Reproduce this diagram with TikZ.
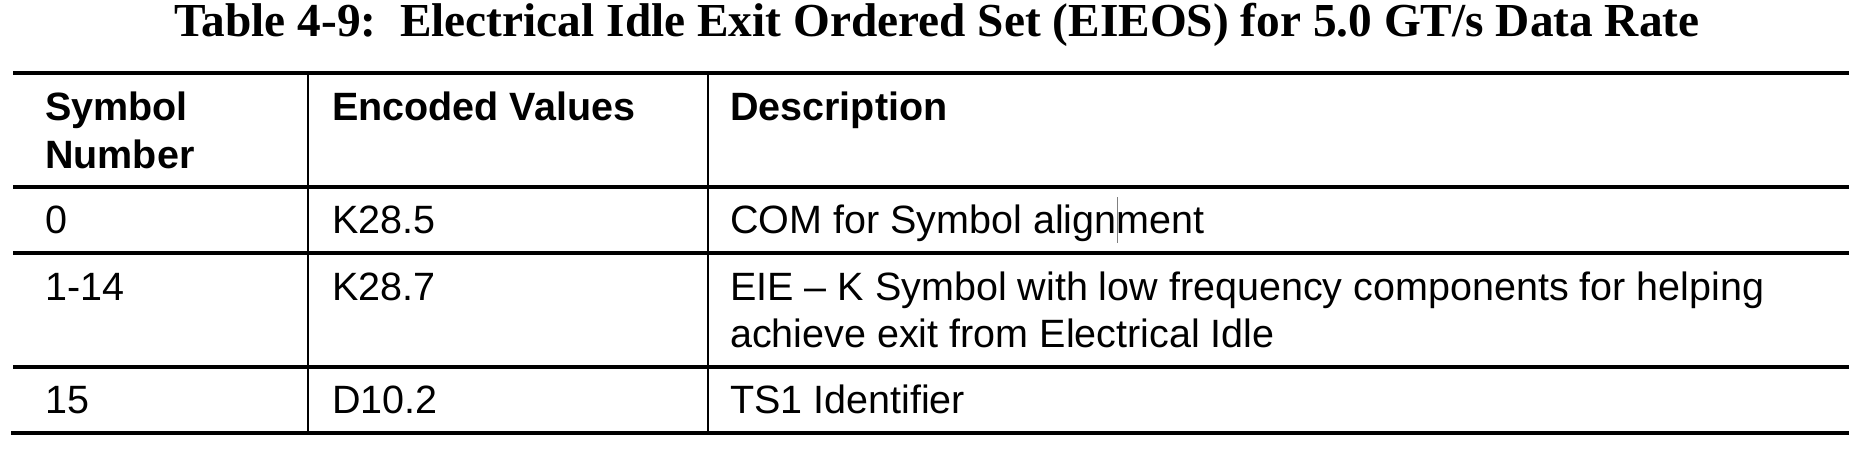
\documentclass[tikz,border=0pt]{standalone}
\usepackage{fontspec}
\setmainfont{Liberation Sans}
\newfontfamily\titlefont{Liberation Serif}
\begin{document}
\begin{tikzpicture}[x=1pt,y=-1pt,
  rule/.style={line width=3.5pt},
  vrule/.style={line width=2pt},
  cell/.style={anchor=base west,inner sep=0pt,font=\fontsize{39.5}{48}\selectfont},
  hcell/.style={cell,font=\fontsize{39.5}{48}\selectfont\bfseries}]
\useasboundingbox (0,0) rectangle (1874,448);
\node[anchor=base,inner sep=0pt] (title) at (937,36) {\resizebox{1525pt}{!}{\titlefont\bfseries\fontsize{40}{48}\selectfont Table 4-9:\ \ Electrical Idle Exit Ordered Set (EIEOS) for 5.0 GT/s Data Rate}};
\draw[rule] (13,73) -- (1849,73);
\draw[rule] (13,187) -- (1849,187);
\draw[rule] (13,253) -- (1849,253);
\draw[rule] (13,367) -- (1849,367);
\draw[rule] (11,433) -- (1849,433);
\draw[vrule] (308,72) -- (308,434);
\draw[vrule] (708,72) -- (708,434);
\node[hcell] (h1) at (45,120) {Symbol};
\node[hcell] (h1b) at (45,168) {Number};
\node[hcell] (h2) at (332,120) {Encoded Values};
\node[hcell] (h3) at (730,120) {Description};
\node[cell] (a1) at (45,233) {0};
\node[cell] (a2) at (332,233) {K28.5};
\node[cell] (a3) at (730,233) {COM for Symbol alignment};
\node[cell] (b1) at (45,300) {1-14};
\node[cell] (b2) at (332,300) {K28.7};
\node[cell] (b3) at (730,300) {EIE – K Symbol with low frequency components for helping};
\node[cell] (b4) at (730,347) {achieve exit from Electrical Idle};
\node[cell] (c1) at (45,413) {15};
\node[cell] (c2) at (332,413) {D10.2};
\node[cell] (c3) at (730,413) {TS1 Identifier};
\draw[gray,line width=0.8pt] (1117,197) -- (1117,243);
\end{tikzpicture}
\end{document}
